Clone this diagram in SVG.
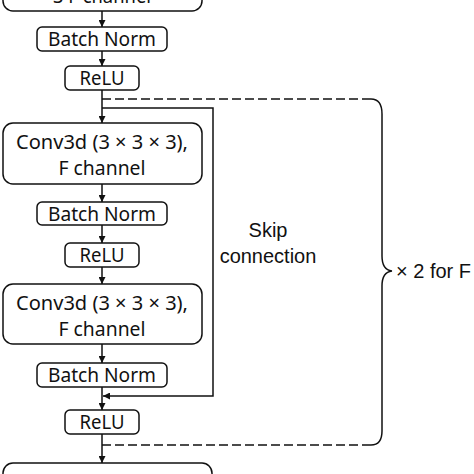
<svg xmlns="http://www.w3.org/2000/svg" width="474" height="474" viewBox="0 0 474 474">
<defs>
<marker id="ah" viewBox="0 0 10 10" refX="10" refY="5" markerWidth="7" markerHeight="7" markerUnits="userSpaceOnUse" orient="auto">
<path d="M0,0 L10,5 L0,10 z" fill="#111"/>
</marker>
<style>
.box{fill:#fff;stroke:#111;stroke-width:1.5}
.t{font-family:"Noto Sans","DejaVu Sans",sans-serif;font-size:20px;fill:#111;text-anchor:middle}
.a{font-family:"Liberation Sans",Arial,sans-serif;font-size:20px;fill:#111}
.ln{fill:none;stroke:#111;stroke-width:1.5}
.dash{fill:none;stroke:#111;stroke-width:1.5;stroke-dasharray:9 4}
</style>
</defs>
<rect width="474" height="474" fill="#fff"/>
<g id="connectors">
<line class="ln" x1="102" y1="11" x2="102" y2="27" marker-end="url(#ah)"/>
<line class="ln" x1="102" y1="51" x2="102" y2="66" marker-end="url(#ah)"/>
<line class="ln" x1="102" y1="90" x2="102" y2="123" marker-end="url(#ah)"/>
<line class="ln" x1="102" y1="184" x2="102" y2="202" marker-end="url(#ah)"/>
<line class="ln" x1="102" y1="225" x2="102" y2="243" marker-end="url(#ah)"/>
<line class="ln" x1="102" y1="267" x2="102" y2="284" marker-end="url(#ah)"/>
<line class="ln" x1="102" y1="344" x2="102" y2="363" marker-end="url(#ah)"/>
<line class="ln" x1="102" y1="387" x2="102" y2="410" marker-end="url(#ah)"/>
<line class="ln" x1="102" y1="434" x2="102" y2="463" marker-end="url(#ah)"/>
<polyline class="ln" points="102,108 213,108 213,396 103,396" marker-end="url(#ah)"/>
<line class="dash" x1="102" y1="99" x2="372" y2="99"/>
<line class="dash" x1="102" y1="445" x2="372" y2="445"/>
<path class="ln" d="M371,99 Q382,99 382,114 L382,256 Q382,270 392,271 Q382,272 382,286 L382,431 Q382,445 371,445"/>
</g>
<g id="top-conv"><rect class="box" x="3" y="-50" width="199" height="61" rx="10"/><text class="t" x="102" y="3" textLength="98" lengthAdjust="spacingAndGlyphs">3 F channel</text></g>
<g id="bn1"><rect class="box" x="37" y="27" width="130" height="24" rx="5"/><text class="t" x="102" y="46" textLength="108" lengthAdjust="spacingAndGlyphs">Batch Norm</text></g>
<g id="relu1"><rect class="box" x="65" y="66" width="74" height="24" rx="5"/><text class="t" x="102" y="85" textLength="45" lengthAdjust="spacingAndGlyphs">ReLU</text></g>
<g id="conv1"><rect class="box" x="3" y="123" width="199" height="61" rx="10"/><text class="t" x="102" y="149" textLength="172" lengthAdjust="spacingAndGlyphs">Conv3d (3 × 3 × 3),</text><text class="t" x="102" y="175" textLength="87" lengthAdjust="spacingAndGlyphs">F channel</text></g>
<g id="bn2"><rect class="box" x="37" y="202" width="130" height="23" rx="5"/><text class="t" x="102" y="221" textLength="108" lengthAdjust="spacingAndGlyphs">Batch Norm</text></g>
<g id="relu2"><rect class="box" x="65" y="243" width="74" height="24" rx="5"/><text class="t" x="102" y="262" textLength="45" lengthAdjust="spacingAndGlyphs">ReLU</text></g>
<g id="conv2"><rect class="box" x="3" y="284" width="199" height="60" rx="10"/><text class="t" x="102" y="310" textLength="172" lengthAdjust="spacingAndGlyphs">Conv3d (3 × 3 × 3),</text><text class="t" x="102" y="336" textLength="87" lengthAdjust="spacingAndGlyphs">F channel</text></g>
<g id="bn3"><rect class="box" x="37" y="363" width="130" height="24" rx="5"/><text class="t" x="102" y="382" textLength="108" lengthAdjust="spacingAndGlyphs">Batch Norm</text></g>
<g id="relu3"><rect class="box" x="65" y="410" width="74" height="24" rx="5"/><text class="t" x="102" y="429" textLength="45" lengthAdjust="spacingAndGlyphs">ReLU</text></g>
<g id="bottom-box"><rect class="box" x="3" y="463" width="209" height="40" rx="10"/></g>
<g id="labels">
<text class="a" x="268" y="237" text-anchor="middle">Skip</text>
<text class="a" x="268" y="263" text-anchor="middle">connection</text>
<text class="a" x="396" y="278" font-size="21">× 2 for F</text>
</g>
</svg>
